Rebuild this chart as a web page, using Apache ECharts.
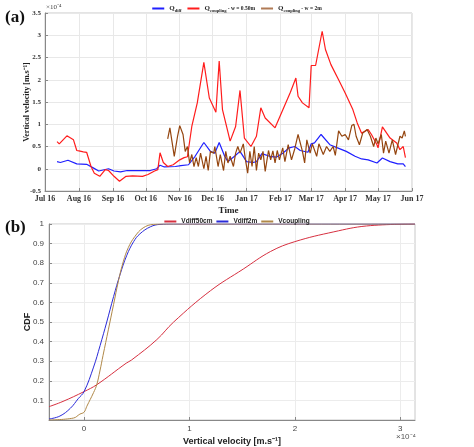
<!DOCTYPE html>
<html><head><meta charset="utf-8">
<script src="https://cdn.jsdelivr.net/npm/echarts@6/dist/echarts.min.js"></script>
<style>html,body{margin:0;padding:0;background:#fff}#c{width:474px;height:447px}</style>
</head><body><div id="c"></div>
<script>
// ---------- Panel (a): vertical velocity time series (units of 1e-4 m/s) ----------
const redDates = ['2016-07-12','2016-07-14','2016-07-21','2016-07-27','2016-07-30','2016-08-01','2016-08-05','2016-08-08','2016-08-12','2016-08-15','2016-08-20','2016-08-25','2016-08-28','2016-09-02','2016-09-07','2016-09-13','2016-09-19','2016-09-28','2016-10-03','2016-10-09','2016-10-12','2016-10-14','2016-10-17','2016-10-21','2016-10-26','2016-11-01','2016-11-05','2016-11-08','2016-11-12','2016-11-17','2016-11-23','2016-11-28','2016-12-04','2016-12-07','2016-12-10','2016-12-17','2016-12-22','2016-12-26','2016-12-30','2017-01-05','2017-01-10','2017-01-14','2017-01-18','2017-01-27','2017-02-10','2017-02-15','2017-02-17','2017-02-21','2017-02-27','2017-03-01','2017-03-05','2017-03-11','2017-03-14','2017-03-19','2017-03-26','2017-04-01','2017-04-08','2017-04-12','2017-04-16','2017-04-22','2017-04-25','2017-04-30','2017-05-01','2017-05-05','2017-05-12','2017-05-18','2017-05-21','2017-05-24','2017-05-26'];
const redVals = [0.61,0.56,0.74,0.65,0.41,0.40,0.38,0.37,0.05,-0.10,-0.17,-0.02,-0.04,-0.17,-0.28,-0.17,-0.16,-0.17,-0.13,-0.05,-0.02,0.36,0.14,0.05,0.09,0.20,0.25,0.27,0.95,1.48,2.39,1.59,1.27,2.42,1.33,0.62,0.95,1.76,0.69,0.50,0.73,1.37,1.14,0.92,1.72,2.04,1.63,1.48,1.37,2.32,2.32,3.09,2.68,2.34,2.00,1.70,1.33,1.03,0.80,0.88,0.77,0.54,0.47,0.94,0.69,0.58,0.43,0.50,0.25];

const blueDates = ['2016-07-12','2016-07-15','2016-07-22','2016-07-30','2016-08-08','2016-08-14','2016-08-19','2016-08-28','2016-09-02','2016-09-08','2016-09-14','2016-09-26','2016-10-05','2016-10-11','2016-10-14','2016-10-18','2016-10-28','2016-11-02','2016-11-09','2016-11-15','2016-11-23','2016-11-29','2016-12-03','2016-12-07','2016-12-12','2016-12-15','2016-12-21','2016-12-26','2017-01-01','2017-01-07','2017-01-10','2017-01-15','2017-01-22','2017-01-28','2017-02-03','2017-02-09','2017-02-14','2017-02-19','2017-02-26','2017-03-01','2017-03-04','2017-03-10','2017-03-18','2017-03-25','2017-04-02','2017-04-10','2017-04-16','2017-04-22','2017-04-30','2017-05-05','2017-05-12','2017-05-19','2017-05-24','2017-05-26'];
const blueVals = [0.16,0.14,0.19,0.11,0.10,0.02,-0.05,0.00,-0.05,-0.07,-0.04,-0.04,-0.04,0.00,0.08,0.04,0.05,0.07,0.09,0.28,0.59,0.39,0.35,0.59,0.28,0.16,0.28,0.39,0.16,0.14,0.16,0.34,0.28,0.26,0.35,0.47,0.50,0.41,0.37,0.56,0.58,0.77,0.54,0.47,0.39,0.28,0.22,0.20,0.13,0.24,0.16,0.11,0.11,0.05];

const brownDates = ['2016-10-21','2016-10-23','2016-10-24','2016-10-27','2016-10-30','2016-11-01','2016-11-04','2016-11-06','2016-11-08','2016-11-10','2016-11-12','2016-11-14','2016-11-16','2016-11-18','2016-11-20','2016-11-23','2016-11-25','2016-11-27','2016-11-29','2016-12-02','2016-12-03','2016-12-06','2016-12-08','2016-12-11','2016-12-13','2016-12-15','2016-12-17','2016-12-20','2016-12-22','2016-12-24','2016-12-26','2016-12-29','2016-12-31','2017-01-02','2017-01-04','2017-01-06','2017-01-08','2017-01-10','2017-01-12','2017-01-14','2017-01-16','2017-01-18','2017-01-21','2017-01-23','2017-01-25','2017-01-27','2017-01-29','2017-01-31','2017-02-03','2017-02-05','2017-02-08','2017-02-11','2017-02-14','2017-02-17','2017-02-21','2017-02-23','2017-02-25','2017-02-28','2017-03-02','2017-03-06','2017-03-08','2017-03-12','2017-03-15','2017-03-18','2017-03-21','2017-03-23','2017-03-26','2017-03-29','2017-04-01','2017-04-04','2017-04-07','2017-04-09','2017-04-11','2017-04-14','2017-04-17','2017-04-21','2017-04-24','2017-04-27','2017-04-29','2017-05-01','2017-05-04','2017-05-06','2017-05-08','2017-05-11','2017-05-14','2017-05-17','2017-05-21','2017-05-23','2017-05-25','2017-05-26'];
const brownVals = [0.67,0.92,0.88,0.28,0.73,0.97,0.77,0.39,0.50,0.13,0.32,0.05,0.25,0.05,0.35,0.00,0.28,-0.04,0.39,0.35,0.50,0.05,0.32,-0.04,0.39,0.13,0.28,0.05,0.35,0.50,0.35,0.56,0.20,-0.10,0.39,0.05,0.50,-0.04,0.35,0.20,0.39,-0.06,0.41,0.20,0.40,0.13,0.41,0.20,0.47,0.16,0.54,0.20,0.45,0.77,0.39,0.13,0.65,0.35,0.56,0.28,0.56,0.32,0.50,0.39,0.50,0.30,0.85,0.73,0.77,0.65,0.97,1.00,0.73,0.54,0.80,0.88,0.73,0.50,0.69,0.56,0.77,0.35,0.62,0.35,0.65,0.32,0.73,0.69,0.85,0.73];

const monthNames = ['Jan','Feb','Mar','Apr','May','Jun','Jul','Aug','Sep','Oct','Nov','Dec'];

// ---------- Panel (b): CDF curves (x in units of 1e-4 m/s) ----------
const red50X = [-0.333,-0.2,0,0.12,0.4,0.45,0.69,0.85,1.2,1.51,1.77,2.0,2.37,2.68,3.14];
const red50Y = [0.068,0.095,0.145,0.18,0.29,0.306,0.41,0.50,0.66,0.77,0.86,0.91,0.96,0.99,1.0];
const blue2X = [-0.333,-0.23,-0.13,-0.054,0,0.09,0.152,0.215,0.28,0.34,0.405,0.47,0.53,0.63,0.72,0.85,3.14];
const blue2Y = [0.005,0.02,0.06,0.11,0.145,0.27,0.38,0.50,0.63,0.74,0.84,0.91,0.95,0.986,0.998,1.0,1.0];
const coupX = [-0.333,-0.1,-0.04,0,0.026,0.09,0.12,0.15,0.18,0.23,0.28,0.326,0.373,0.42,0.48,0.56,0.66,0.8,3.14];
const coupY = [0.0,0.01,0.03,0.04,0.07,0.14,0.18,0.25,0.33,0.46,0.59,0.71,0.81,0.88,0.935,0.98,0.998,1.0,1.0];
const xTicksB = [0,1,2,3];

const zip = (a,b) => a.map((v,i)=>[v,b[i]]);
const serif = 'Liberation Serif';
const sans = 'Liberation Sans';

const chart = echarts.init(document.getElementById('c'), null, {renderer:'canvas'});
const legRich = {
  q:{fontFamily:serif,fontWeight:'bold',fontSize:7,color:'#222'},
  s:{fontFamily:serif,fontWeight:'bold',fontSize:4.5,color:'#222',padding:[5,0,0,0]},
  t:{fontFamily:serif,fontWeight:'bold',fontSize:5.5,color:'#222'}
};
const option = {
  animation:false,
  backgroundColor:'#fff',
  grid:[
    {left:45,top:13,width:367,height:178,show:true,borderColor:'#c8c8c8',borderWidth:1},
    {left:49,top:224,width:366,height:196,show:true,borderColor:'#c8c8c8',borderWidth:1}
  ],
  legend:[
    {data:['Qdiff','Qc50','Qc2'],top:0,left:'center',itemWidth:12,itemHeight:2,itemGap:6,
     icon:'rect',
     formatter:function(n){
       if(n==='Qdiff') return '{q|Q}{s|diff}';
       if(n==='Qc50') return '{q|Q}{s|coupling}{t| - w = 0.50m}';
       return '{q|Q}{s|coupling}{t| - w = 2m}';
     },
     textStyle:{rich:legRich}},
    {data:['Vdiff50cm','Vdiff2m','Vcoupling'],top:213,left:'center',itemWidth:12,itemHeight:2,itemGap:4,icon:'rect',
     textStyle:{fontFamily:sans,fontWeight:'bold',fontSize:6.5,color:'#222'}}
  ],
  xAxis:[
    {type:'time',gridIndex:0,min:'2016-07-01',max:'2017-06-01',
     minInterval:28*86400000,maxInterval:31*86400000,
     name:'Time',nameLocation:'middle',nameGap:15,nameMoveOverlap:false,
     nameTextStyle:{fontFamily:serif,fontWeight:'bold',fontSize:9,color:'#222'},
     axisLine:{onZero:false,lineStyle:{color:'#888'}},axisTick:{inside:true,length:3,lineStyle:{color:'#888'}},
     axisLabel:{fontFamily:serif,fontWeight:'bold',fontSize:8,color:'#333',margin:4,showMinLabel:true,showMaxLabel:true,hideOverlap:false,
       formatter:function(v){const d=new Date(v);return monthNames[d.getMonth()]+' '+String(d.getFullYear()).slice(2);}},
     splitLine:{show:true,lineStyle:{color:'#e8e8e8',width:1}}},
    {type:'value',gridIndex:1,min:-0.333,max:3.14,
     name:'Vertical velocity [m.s\u207B\u00B9]',nameLocation:'middle',nameGap:17,nameMoveOverlap:false,
     nameTextStyle:{fontFamily:sans,fontWeight:'bold',fontSize:9,color:'#222'},
     axisLine:{onZero:false,lineStyle:{color:'#888'}},
     axisTick:{inside:true,length:3,customValues:xTicksB,lineStyle:{color:'#888'}},
     axisLabel:{fontFamily:sans,fontSize:8,color:'#444',margin:5,customValues:xTicksB},
     splitLine:{show:true,lineStyle:{color:'#ececec'}}}
  ],
  yAxis:[
    {type:'value',gridIndex:0,min:-0.5,max:3.5,interval:0.5,
     name:'Vertical velocity [m.s\u207B\u00B9]',nameLocation:'middle',nameGap:14,nameMoveOverlap:false,
     nameTextStyle:{fontFamily:serif,fontWeight:'bold',fontSize:8,color:'#222'},
     axisLine:{show:true,onZero:false,lineStyle:{color:'#888'}},axisTick:{show:true,inside:true,length:3,lineStyle:{color:'#888'}},
     axisLabel:{fontFamily:serif,fontWeight:'bold',fontSize:7,color:'#333',margin:4,
       formatter:function(v){return String(Math.round(v*10)/10);}},
     splitLine:{show:true,lineStyle:{color:'#e8e8e8'}}},
    {type:'value',gridIndex:1,min:0,max:1,interval:0.1,
     name:'CDF',nameLocation:'middle',nameGap:17,nameMoveOverlap:false,
     nameTextStyle:{fontFamily:sans,fontWeight:'bold',fontSize:9,color:'#222'},
     axisLine:{show:true,onZero:false,lineStyle:{color:'#888'}},axisTick:{show:true,inside:true,length:3,lineStyle:{color:'#888'}},
     axisLabel:{fontFamily:sans,fontSize:8,color:'#444',margin:5,
       formatter:function(v){return v===0?'':String(Math.round(v*10)/10);}},
     splitLine:{show:true,lineStyle:{color:'#ececec'}}}
  ],
  series:[
    {name:'Qdiff',type:'line',xAxisIndex:0,yAxisIndex:0,data:zip(blueDates,blueVals),showSymbol:false,lineStyle:{color:'#1f1fff',width:1.2},itemStyle:{color:'#1f1fff'}},
    {name:'Qc50',type:'line',xAxisIndex:0,yAxisIndex:0,data:zip(redDates,redVals),showSymbol:false,lineStyle:{color:'#ff1c1c',width:1.2},itemStyle:{color:'#ff1c1c'}},
    {name:'Qc2',type:'line',xAxisIndex:0,yAxisIndex:0,data:zip(brownDates,brownVals),showSymbol:false,lineStyle:{color:'#94450f',width:1.2},itemStyle:{color:'#b07a55'}},
    {name:'Vdiff50cm',type:'line',xAxisIndex:1,yAxisIndex:1,data:zip(red50X,red50Y),smooth:0.4,showSymbol:false,lineStyle:{color:'#d63040',width:1},itemStyle:{color:'#d63040'}},
    {name:'Vdiff2m',type:'line',xAxisIndex:1,yAxisIndex:1,data:zip(blue2X,blue2Y),smooth:0.4,showSymbol:false,lineStyle:{color:'#2a2ad8',width:1},itemStyle:{color:'#2a2ad8'}},
    {name:'Vcoupling',type:'line',xAxisIndex:1,yAxisIndex:1,data:zip(coupX,coupY),smooth:0.4,showSymbol:false,lineStyle:{color:'#b08848',width:1},itemStyle:{color:'#b08848'}}
  ],
  graphic:[
    {type:'text',left:5,top:9,style:{text:'(a)',fontFamily:serif,fontWeight:'bold',fontSize:17,fill:'#111'}},
    {type:'text',left:5,top:219,style:{text:'(b)',fontFamily:serif,fontWeight:'bold',fontSize:17,fill:'#111'}},
    {type:'text',left:46,top:4,style:{text:'\u00D710\u207B\u2074',fontFamily:serif,fontSize:7,fill:'#444'}},
    {type:'text',left:396,top:433,style:{text:'\u00D710\u207B\u2074',fontFamily:sans,fontSize:8,fill:'#555'}}
  ]
};
chart.setOption(option);
</script></body></html>
